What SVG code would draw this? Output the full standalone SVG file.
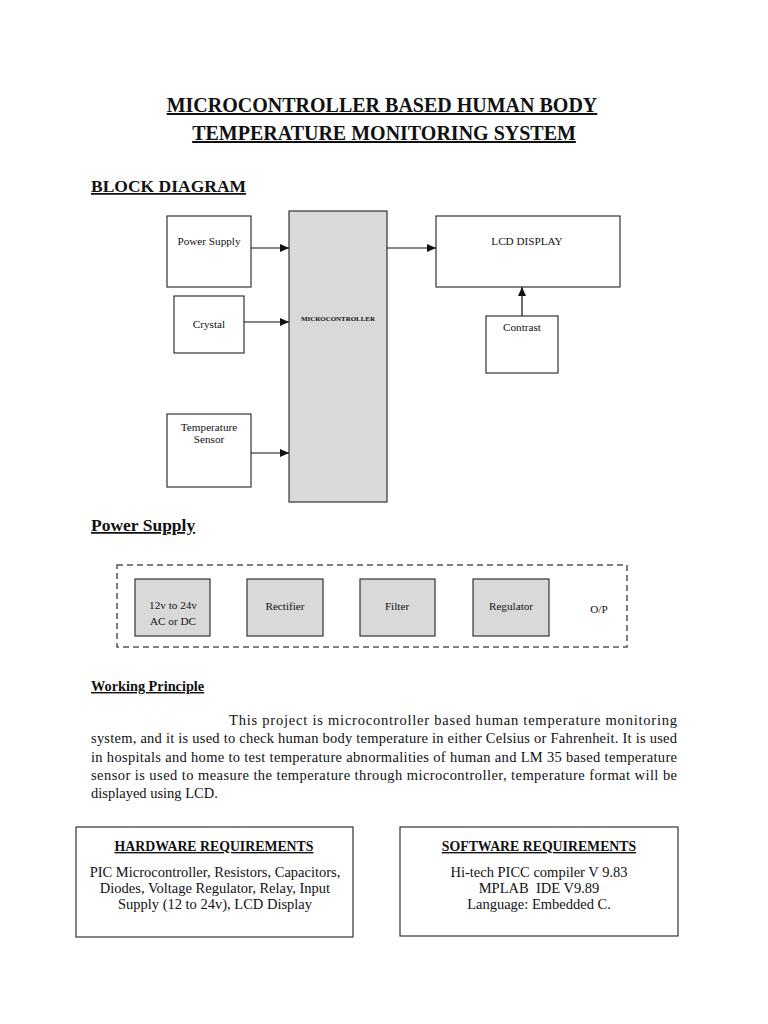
<svg xmlns="http://www.w3.org/2000/svg" width="768" height="1024" viewBox="0 0 768 1024">
<style>
text{font-family:"Liberation Serif","Times New Roman",serif;fill:#111}
.title{font-size:20px;font-weight:bold;text-anchor:middle;text-decoration:underline}
.h{font-size:17.5px;font-weight:bold;text-decoration:underline}
.h2{font-size:14.3px;font-weight:bold;text-decoration:underline}
.lbl{font-size:11.2px;text-anchor:middle}
.box{fill:#fff;stroke:#333;stroke-width:1.2}
.gbox{fill:#d9d9d9;stroke:#333;stroke-width:1.2}
.conn{stroke:#111;stroke-width:1.2;fill:none}
.para{font-size:14.5px}
.req{font-size:13.8px;font-weight:bold;text-anchor:middle;text-decoration:underline}
.body{font-size:14.5px;text-anchor:middle}
</style>
<defs>
<marker id="arr" markerWidth="9" markerHeight="8" refX="9" refY="4" orient="auto" markerUnits="userSpaceOnUse">
<path d="M0,0 L9,4 L0,8 Z" fill="#111"/>
</marker>
</defs>
<rect width="768" height="1024" fill="#fff"/>

<text class="title" x="382" y="112">MICROCONTROLLER BASED HUMAN BODY</text>
<text class="title" x="384" y="140">TEMPERATURE MONITORING SYSTEM</text>
<text class="h" x="91" y="192">BLOCK DIAGRAM</text>

<g id="power-supply">
<rect class="box" x="167" y="216" width="84" height="71"/>
<text class="lbl" x="209" y="245">Power Supply</text>
</g>
<g id="crystal">
<rect class="box" x="174" y="296" width="70" height="57"/>
<text class="lbl" x="209" y="328">Crystal</text>
</g>
<g id="temperature-sensor">
<rect class="box" x="167" y="414" width="84" height="73"/>
<text class="lbl" x="209" y="431">Temperature</text>
<text class="lbl" x="209" y="443">Sensor</text>
</g>
<g id="microcontroller">
<rect class="gbox" x="289" y="211" width="98" height="291"/>
<text x="338" y="321" font-size="7" font-weight="bold" text-anchor="middle" textLength="74" lengthAdjust="spacingAndGlyphs">MICROCONTROLLER</text>
</g>
<g id="lcd-display">
<rect class="box" x="436" y="216" width="184" height="71"/>
<text class="lbl" x="527" y="245">LCD DISPLAY</text>
</g>
<g id="contrast">
<rect class="box" x="486" y="316" width="72" height="57"/>
<text class="lbl" x="522" y="331">Contrast</text>
</g>

<g id="connectors">
<line class="conn" x1="251" y1="248" x2="289" y2="248" marker-end="url(#arr)"/>
<line class="conn" x1="244" y1="322" x2="289" y2="322" marker-end="url(#arr)"/>
<line class="conn" x1="251" y1="453" x2="289" y2="453" marker-end="url(#arr)"/>
<line class="conn" x1="387" y1="248" x2="436" y2="248" marker-end="url(#arr)"/>
<line class="conn" x1="522" y1="316" x2="522" y2="287" marker-end="url(#arr)"/>
</g>

<text class="h" x="91" y="531">Power Supply</text>

<g id="power-supply-chain">
<rect x="117" y="565" width="510" height="82" fill="none" stroke="#555" stroke-width="1.5" stroke-dasharray="6,4"/>
</g>
<g id="input">
<rect class="gbox" x="135" y="579" width="75" height="57"/>
<text class="lbl" x="173" y="609">12v to 24v</text>
<text class="lbl" x="173" y="625">AC or DC</text>
</g>
<g id="rectifier">
<rect class="gbox" x="247" y="579" width="76" height="57"/>
<text class="lbl" x="285" y="610">Rectifier</text>
</g>
<g id="filter">
<rect class="gbox" x="360" y="579" width="75" height="57"/>
<text class="lbl" x="397" y="610">Filter</text>
</g>
<g id="regulator">
<rect class="gbox" x="473" y="579" width="76" height="57"/>
<text class="lbl" x="511" y="610">Regulator</text>
</g>
<g id="op">
<text class="lbl" x="599" y="613">O/P</text>
</g>

<text class="h2" x="91" y="691">Working Principle</text>

<g id="paragraph">
<text class="para" x="229" y="725" textLength="448" lengthAdjust="spacing">This project is microcontroller based human temperature monitoring</text>
<text class="para" x="91" y="743" textLength="586" lengthAdjust="spacing">system, and it is used to check human body temperature in either Celsius or Fahrenheit. It is used</text>
<text class="para" x="91" y="762" textLength="586" lengthAdjust="spacing">in hospitals and home to test temperature abnormalities of human and LM 35 based temperature</text>
<text class="para" x="91" y="780" textLength="586" lengthAdjust="spacing">sensor is used to measure the temperature through microcontroller, temperature format will be</text>
<text class="para" x="91" y="798">displayed using LCD.</text>
</g>

<g id="hardware-requirements">
<rect class="box" x="76" y="827" width="277" height="110"/>
<text class="req" x="214" y="851">HARDWARE REQUIREMENTS</text>
<text class="body" x="215" y="877">PIC Microcontroller, Resistors, Capacitors,</text>
<text class="body" x="215" y="893">Diodes, Voltage Regulator, Relay, Input</text>
<text class="body" x="215" y="909">Supply (12 to 24v), LCD Display</text>
</g>
<g id="software-requirements">
<rect class="box" x="400" y="827" width="278" height="109"/>
<text class="req" x="539" y="851">SOFTWARE REQUIREMENTS</text>
<text class="body" x="539" y="877">Hi-tech PICC compiler V 9.83</text>
<text class="body" x="539" y="893" xml:space="preserve">MPLAB  IDE V9.89</text>
<text class="body" x="539" y="909">Language: Embedded C.</text>
</g>
</svg>
